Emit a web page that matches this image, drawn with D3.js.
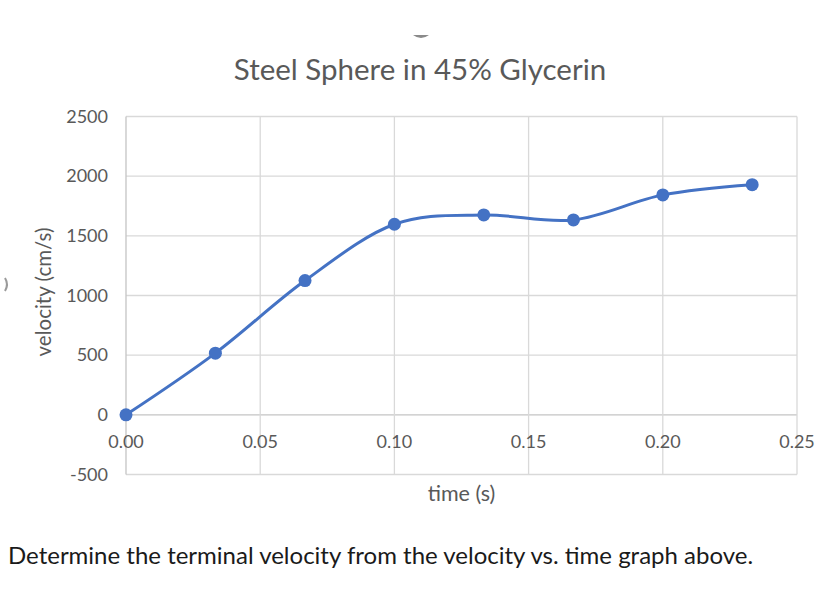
<!DOCTYPE html>
<html><head><meta charset="utf-8">
<script src="https://cdn.jsdelivr.net/npm/d3@7"></script>
<style>html,body{margin:0;padding:0;background:#fff;}</style>
</head><body>
<svg id="c" width="838" height="604"></svg>
<script>
const timeValues = [0, 0.0333, 0.0667, 0.1, 0.1333, 0.1667, 0.2, 0.2333];
const velocityValues = [0, 517, 1125, 1597, 1675, 1633, 1843, 1929];
const xTicks = [0, 0.05, 0.10, 0.15, 0.20, 0.25];
const yTicks = [-500, 0, 500, 1000, 1500, 2000, 2500];
const titleText = "Steel Sphere in 45% Glycerin";
const xTitle = "time (s)";
const yTitle = "velocity (cm/s)";
const caption = "Determine the terminal velocity from the velocity vs. time graph above.";

const svg = d3.select("#c");
const font = "Lato, 'Open Sans', sans-serif";
const x = d3.scaleLinear().domain([0, 0.25]).range([126, 797]);
const y = d3.scaleLinear().domain([-500, 2500]).range([474.5, 116.5]);

// gridlines
svg.append("g").selectAll("line").data(yTicks).join("line")
  .attr("x1", x(0)).attr("x2", x(0.25))
  .attr("y1", d => y(d)).attr("y2", d => y(d))
  .attr("stroke", d => d === 0 ? "#c4c4c4" : "#d9d9d9").attr("stroke-width", 1.3);
svg.append("g").selectAll("line").data(xTicks).join("line")
  .attr("x1", d => x(d)).attr("x2", d => x(d))
  .attr("y1", y(-500)).attr("y2", y(2500))
  .attr("stroke", d => d === 0 ? "#c4c4c4" : "#d9d9d9").attr("stroke-width", 1.3);

// y tick labels
svg.append("g").selectAll("text").data(yTicks).join("text")
  .attr("x", 108).attr("y", d => y(d)).attr("dy", "0.35em")
  .attr("text-anchor", "end").attr("font-family", font).attr("font-size", 18)
  .attr("fill", "#595959").text(d => d);
// x tick labels
svg.append("g").selectAll("text").data(xTicks).join("text")
  .attr("x", d => x(d)).attr("y", y(0) + 26.5).attr("dy", "0.35em")
  .attr("text-anchor", "middle").attr("font-family", font).attr("font-size", 18)
  .attr("fill", "#595959").text(d => d3.format(".2f")(d));

// line
const pts = timeValues.map((t, i) => [t, velocityValues[i]]);
const line = d3.line().x(d => x(d[0])).y(d => y(d[1])).curve(d3.curveCardinal.tension(0));
svg.append("path").attr("d", line(pts)).attr("fill", "none")
  .attr("stroke", "#4472C4").attr("stroke-width", 3).attr("stroke-linecap", "round");
svg.append("g").selectAll("circle").data(pts).join("circle")
  .attr("cx", d => x(d[0])).attr("cy", d => y(d[1])).attr("r", 6.5)
  .attr("fill", "#4472C4");

// titles
svg.append("text").attr("x", 420).attr("y", 70).attr("dy", "0.35em")
  .attr("text-anchor", "middle").attr("font-family", font).attr("font-size", 29.5)
  .attr("fill", "#595959").text(titleText);
svg.append("text").attr("x", 461.5).attr("y", 493).attr("dy", "0.35em")
  .attr("text-anchor", "middle").attr("font-family", font).attr("font-size", 21.5)
  .attr("fill", "#595959").text(xTitle);
svg.append("text").attr("transform", "translate(44,292) rotate(-90)").attr("dy", "0.35em")
  .attr("text-anchor", "middle").attr("font-family", font).attr("font-size", 20.5)
  .attr("fill", "#595959").text(yTitle);

// caption
svg.append("text").attr("x", 8).attr("y", 556).attr("dy", "0.35em")
  .attr("font-family", font).attr("font-size", 24)
  .attr("fill", "#1a1a1a").text(caption);

// small decorative artifacts from the source image
svg.append("path").attr("d", "M413,35 L429,35 Q421,41 413,35 Z").attr("fill", "#8a8a8a");
svg.append("path").attr("d", "M5,278 Q9,284.5 5,291").attr("fill", "none").attr("stroke", "#9a9a9a").attr("stroke-width", 2);
</script>
</body></html>
